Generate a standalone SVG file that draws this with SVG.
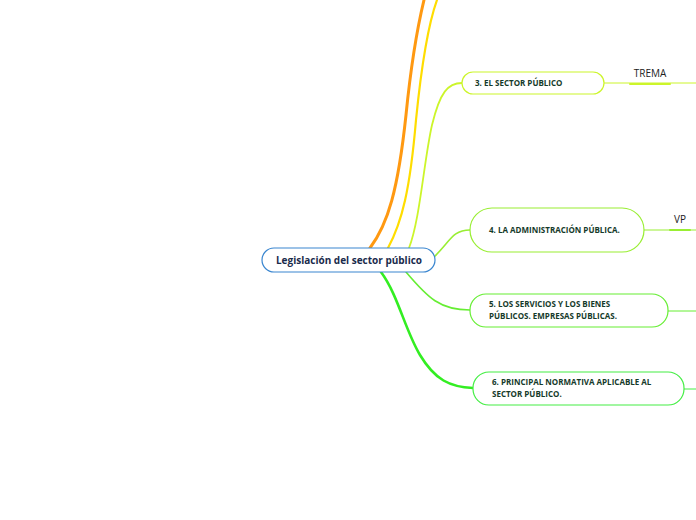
<svg xmlns="http://www.w3.org/2000/svg" width="696" height="520" viewBox="0 0 696 520">
<style>
.nt{font-family:"Open Sans","Noto Sans",sans-serif;font-weight:bold;font-size:8px;fill:#153a2a}
.lbl{font-family:"Open Sans","Noto Sans",sans-serif;font-size:10px;fill:#222}
.c{fill:none;stroke-linecap:round}
</style>
<rect width="696" height="520" fill="#fff"/>
<g id="connectors">
<path class="c" d="M370,248 C388,224 398,190 406,115 C412,55 418,25 424,0" stroke="#ff9911" stroke-width="3"/>
<path class="c" d="M388,248 C402,222 410,190 416,120 C422,60 428,25 437,0" stroke="#ffdd00" stroke-width="2.2"/>
<path class="c" d="M409,248 C420,220 424,160 432,125 C440,92 448,83 462,83" stroke="#ccf52a" stroke-width="1.8"/>
<path class="c" d="M434,257 C450,242 452,230 470,230" stroke="#99ee33" stroke-width="1.6"/>
<path class="c" d="M406,272 C428,298 440,310 470,310" stroke="#66ee33" stroke-width="1.6"/>
<path class="c" d="M381,272 C398,295 405,330 420,355 C435,380 450,387 473,388" stroke="#33ee22" stroke-width="2.6"/>
<path class="c" d="M604,83 H696" stroke="#ccf52a" stroke-width="1"/>
<path class="c" d="M630,84 H670" stroke="#ccf52a" stroke-width="2"/>
<path class="c" d="M644,230 H696" stroke="#99ee33" stroke-width="1"/>
<path class="c" d="M670,230 H690" stroke="#99ee33" stroke-width="2"/>
<path class="c" d="M668,311 H696" stroke="#66ee33" stroke-width="1"/>
<path class="c" d="M684,389 H696" stroke="#44ee44" stroke-width="1"/>
</g>
<g id="central">
<rect x="262" y="248" width="173" height="24" rx="12" fill="#fff" stroke="#3a86d0" stroke-width="1.2"/>
<text x="349" y="264" text-anchor="middle" font-family="'Open Sans','Noto Sans',sans-serif" font-weight="bold" font-size="10" fill="#1a2b4c">Legislación del sector público</text>
</g>
<g id="n3">
<rect x="462" y="72" width="142" height="22" rx="11" fill="#fff" stroke="#ccf52a" stroke-width="1.2"/>
<text class="nt" x="475" y="86">3. EL SECTOR PÚBLICO</text>
</g>
<g id="trema"><text class="lbl" x="650" y="77" text-anchor="middle">TREMA</text></g>
<g id="n4">
<rect x="470" y="208" width="174" height="44" rx="22" fill="#fff" stroke="#99ee33" stroke-width="1.2"/>
<text class="nt" x="489" y="233">4. LA ADMINISTRACIÓN PÚBLICA.</text>
</g>
<g id="vp"><text class="lbl" x="680" y="223" text-anchor="middle">VP</text></g>
<g id="n5">
<rect x="470" y="294" width="198" height="33" rx="16" fill="#fff" stroke="#66ee33" stroke-width="1.2"/>
<text class="nt" x="489" y="307">5. LOS SERVICIOS Y LOS BIENES</text>
<text class="nt" x="489" y="319">PÚBLICOS. EMPRESAS PÚBLICAS.</text>
</g>
<g id="n6">
<rect x="473" y="372" width="211" height="33" rx="16" fill="#fff" stroke="#44ee44" stroke-width="1.2"/>
<text class="nt" x="492" y="385">6. PRINCIPAL NORMATIVA APLICABLE AL</text>
<text class="nt" x="492" y="397">SECTOR PÚBLICO.</text>
</g>
</svg>
